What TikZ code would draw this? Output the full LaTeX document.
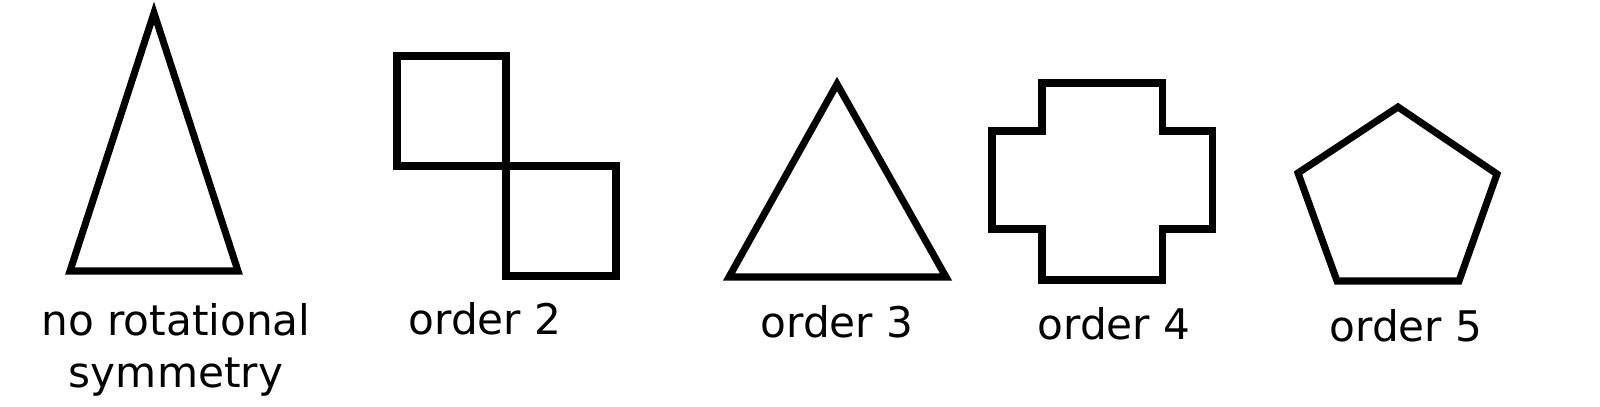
\documentclass[tikz,border=0pt]{standalone}
\usepackage{fontspec}
\setmainfont{DejaVu Sans}
\begin{document}
\begin{tikzpicture}[x=0.01cm, y=-0.01cm, line join=miter,
  outline/.style={draw=black, line width=2pt},
  caption/.style={anchor=base, align=center, inner sep=0, outer sep=0,
    font=\fontsize{12pt}{15pt}\selectfont}]
  \useasboundingbox (0,0) rectangle (1600,407);

  % no rotational symmetry
  \coordinate (iso1) at (154,13);
  \coordinate (iso2) at (238,271);
  \coordinate (iso3) at (70,271);
  \draw[outline] (iso1) -- (iso2) -- (iso3) -- cycle;
  % base anchor sits on the last line
  \node[caption] (isolabel) at (176,388) {no rotational\\symmetry};

  % order 2
  \coordinate (sqmid) at (506,166);
  \draw[outline] (sqmid) -- ++(0,-110) -- ++(-109,0) -- ++(0,110) -- cycle;
  \draw[outline] (sqmid) -- ++(110,0) -- ++(0,110) -- ++(-110,0) -- cycle;
  \node[caption] (sqlabel) at (485,335) {order 2};

  % order 3
  \coordinate (equi1) at (837,84);
  \coordinate (equi2) at (946,277);
  \coordinate (equi3) at (729,277);
  \draw[outline] (equi1) -- (equi2) -- (equi3) -- cycle;
  \node[caption] (equilabel) at (837,338) {order 3};

  % order 4
  \draw[outline] (1042,83) -- (1162,83) -- (1162,131) -- (1212,131) -- (1212,229)
    -- (1162,229) -- (1162,280) -- (1042,280) -- (1042,229) -- (992,229)
    -- (992,131) -- (1042,131) -- cycle;
  \node[caption] (crosslabel) at (1114,340) {order 4};

  % order 5
  \coordinate (pent1) at (1398,107);
  \coordinate (pent2) at (1497,174);
  \coordinate (pent3) at (1459,281);
  \coordinate (pent4) at (1337,281);
  \coordinate (pent5) at (1298,173);
  \draw[outline] (pent1) -- (pent2) -- (pent3) -- (pent4) -- (pent5) -- cycle;
  \node[caption] (pentlabel) at (1406,342) {order 5};
\end{tikzpicture}
\end{document}
